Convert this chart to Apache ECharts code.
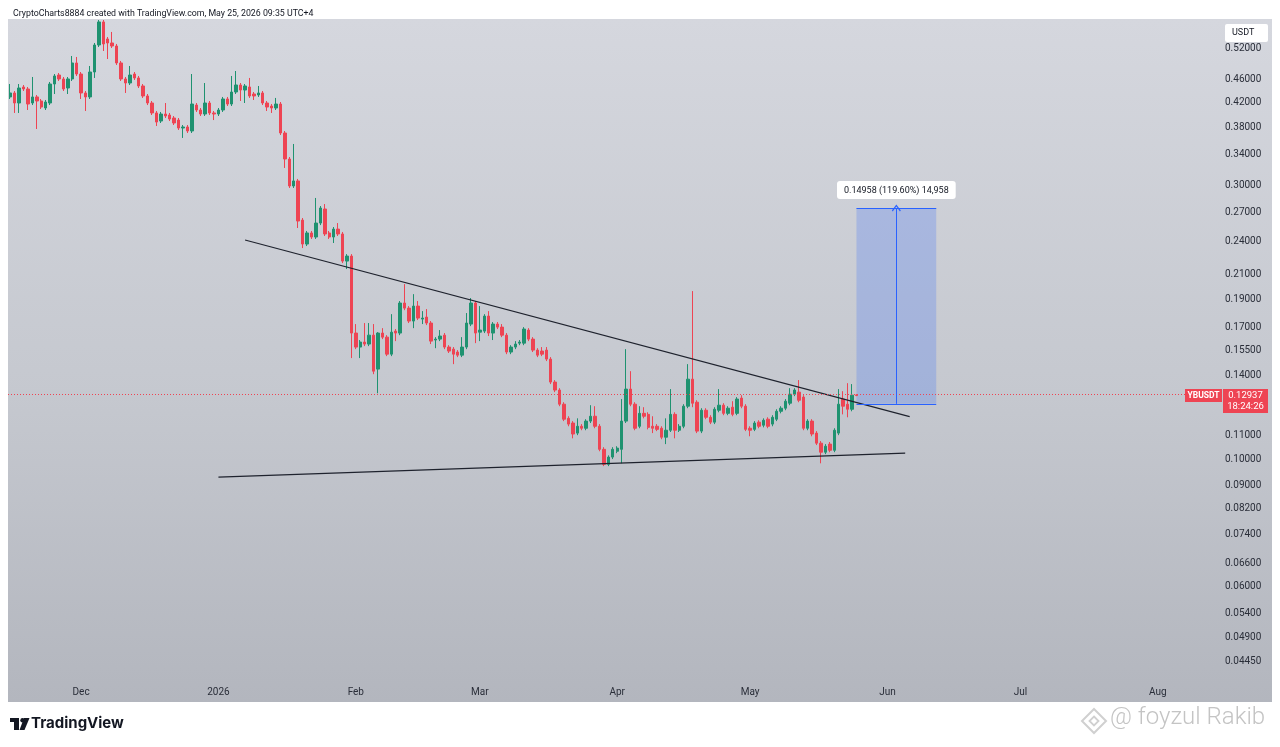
<!DOCTYPE html>
<html><head><meta charset="utf-8">
<script src="https://cdn.jsdelivr.net/npm/echarts@6/dist/echarts.min.js"></script>
<style>html,body{margin:0;padding:0;background:#fff;}#c{width:1280px;height:747px;}</style>
</head><body><div id="c"></div>
<script>
// ---------- data ----------
const symbolName = 'YBUSDT';
const firstDay = [2025, 10, 15];   // 15 Nov 2025 (month 0-based)
const dayCount = 274;              // visible daily slots up to mid-August 2026

const opens = [0.4289,0.4358,0.4186,0.4464,0.4428,0.4186,0.4289,0.4220,0.4103,0.4186,
0.4518,0.4684,0.4610,0.4446,0.4610,0.4916,0.4703,0.4358,0.4289,0.4741,
0.5284,0.5796,0.5413,0.5327,0.5263,0.4916,0.4610,0.4536,0.4703,0.4629,
0.4482,0.4306,0.4186,0.4022,0.3894,0.4005,0.3989,0.3941,0.3909,0.3786,
0.3802,0.3741,0.4152,0.4070,0.4005,0.4186,0.4022,0.4005,0.4070,0.4254,
0.4169,0.4375,0.4500,0.4410,0.4464,0.4340,0.4323,0.4358,0.4186,0.4136,
0.4103,0.4169,0.3711,0.3343,0.3000,0.3061,0.2616,0.2376,0.2484,0.2444,
0.2585,0.2735,0.2484,0.2444,0.2523,0.2474,0.2219,0.2264,0.1662,0.1571,
0.1603,0.1590,0.1648,0.1438,0.1662,0.1635,0.1527,0.1675,0.1662,0.1875,
0.1837,0.1744,0.1852,0.1758,0.1772,0.1730,0.1616,0.1622,0.1648,0.1571,
0.1558,0.1540,0.1521,0.1571,0.1723,0.1875,0.1668,0.1675,0.1779,0.1662,
0.1723,0.1702,0.1648,0.1540,0.1571,0.1596,0.1596,0.1682,0.1622,0.1552,
0.1546,0.1552,0.1497,0.1365,0.1322,0.1249,0.1180,0.1158,0.1112,0.1143,
0.1134,0.1167,0.1190,0.1143,0.1042,0.0981,0.1010,0.1034,0.1042,0.1167,
0.1327,0.1249,0.1143,0.1204,0.1199,0.1143,0.1143,0.1134,0.1094,0.1125,
0.1199,0.1125,0.1143,0.1239,0.1381,0.1259,0.1121,0.1219,0.1185,0.1162,
0.1219,0.1244,0.1204,0.1234,0.1204,0.1280,0.1239,0.1134,0.1129,0.1162,
0.1148,0.1176,0.1153,0.1176,0.1214,0.1229,0.1254,0.1300,0.1311,0.1285,
0.1134,0.1167,0.1112,0.1068,0.1030,0.1064,0.1038,0.1112,0.1275,0.1249,
0.1224,0.1296];

const closes = [0.4358,0.4186,0.4446,0.4428,0.4169,0.4289,0.4220,0.4119,0.4203,0.4518,
0.4666,0.4610,0.4428,0.4610,0.4916,0.4703,0.4358,0.4289,0.4741,0.5284,
0.5796,0.5306,0.5327,0.5263,0.4916,0.4610,0.4536,0.4684,0.4629,0.4482,
0.4306,0.4186,0.4022,0.3878,0.4005,0.3973,0.3925,0.3863,0.3786,0.3802,
0.3741,0.4169,0.4070,0.4005,0.4186,0.4022,0.4005,0.4070,0.4254,0.4169,
0.4375,0.4500,0.4410,0.4482,0.4306,0.4306,0.4358,0.4186,0.4119,0.4103,
0.4169,0.3711,0.3343,0.3000,0.3061,0.2606,0.2376,0.2484,0.2444,0.2585,
0.2746,0.2474,0.2444,0.2523,0.2474,0.2219,0.2264,0.1662,0.1571,0.1603,
0.1590,0.1648,0.1426,0.1662,0.1635,0.1527,0.1668,0.1662,0.1875,0.1837,
0.1744,0.1852,0.1765,0.1765,0.1730,0.1609,0.1622,0.1642,0.1571,0.1546,
0.1527,0.1521,0.1571,0.1730,0.1875,0.1662,0.1682,0.1779,0.1662,0.1723,
0.1702,0.1648,0.1540,0.1571,0.1590,0.1603,0.1689,0.1622,0.1552,0.1521,
0.1527,0.1497,0.1365,0.1322,0.1249,0.1176,0.1153,0.1108,0.1143,0.1134,
0.1167,0.1190,0.1143,0.1042,0.0981,0.1010,0.1042,0.1047,0.1167,0.1327,
0.1249,0.1134,0.1204,0.1190,0.1138,0.1134,0.1129,0.1094,0.1125,0.1199,
0.1125,0.1143,0.1239,0.1381,0.1254,0.1121,0.1219,0.1185,0.1162,0.1224,
0.1244,0.1204,0.1229,0.1199,0.1275,0.1239,0.1129,0.1125,0.1158,0.1143,
0.1171,0.1143,0.1185,0.1214,0.1229,0.1264,0.1300,0.1322,0.1269,0.1134,
0.1167,0.1108,0.1068,0.1030,0.1055,0.1038,0.1125,0.1249,0.1239,0.1224,
0.1295,0.12937];

const lows = [0.4254,0.4022,0.4022,0.4393,0.4070,0.4152,0.3771,0.4086,0.4070,0.4152,
0.4340,0.4573,0.4393,0.4340,0.4573,0.4666,0.4254,0.4054,0.4254,0.4629,
0.5242,0.5158,0.4995,0.5221,0.4877,0.4573,0.4358,0.4500,0.4591,0.4446,
0.4272,0.4152,0.3989,0.3817,0.3863,0.3941,0.3894,0.3832,0.3756,0.3638,
0.3711,0.3711,0.4038,0.3973,0.3973,0.3989,0.3909,0.3973,0.4038,0.4136,
0.4136,0.4340,0.4220,0.4186,0.4272,0.4237,0.4289,0.4152,0.4054,0.4022,
0.4070,0.3681,0.3225,0.2976,0.2976,0.2534,0.2338,0.2357,0.2425,0.2425,
0.2564,0.2454,0.2425,0.2386,0.2454,0.2201,0.2149,0.1503,0.1558,0.1503,
0.1577,0.1577,0.1409,0.1305,0.1622,0.1515,0.1515,0.1609,0.1648,0.1822,
0.1730,0.1695,0.1751,0.1723,0.1716,0.1590,0.1564,0.1609,0.1558,0.1534,
0.1467,0.1509,0.1509,0.1558,0.1709,0.1596,0.1609,0.1662,0.1642,0.1616,
0.1689,0.1635,0.1527,0.1527,0.1558,0.1583,0.1583,0.1609,0.1540,0.1509,
0.1515,0.1485,0.1354,0.1311,0.1239,0.1167,0.1143,0.1089,0.1103,0.1125,
0.1125,0.1158,0.1134,0.1034,0.0974,0.0974,0.1002,0.1026,0.0985,0.1158,
0.1239,0.1125,0.1134,0.1180,0.1129,0.1112,0.1121,0.1085,0.1064,0.1117,
0.1089,0.1117,0.1134,0.1229,0.1234,0.1112,0.1112,0.1176,0.1153,0.1153,
0.1209,0.1195,0.1195,0.1190,0.1195,0.1229,0.1121,0.1098,0.1121,0.1134,
0.1138,0.1134,0.1143,0.1167,0.1204,0.1219,0.1244,0.1290,0.1259,0.1125,
0.1125,0.1098,0.1060,0.0985,0.1022,0.1030,0.1030,0.1103,0.1199,0.1185,
0.1214,0.1290];

const highs = [0.4518,0.4393,0.4518,0.4500,0.4464,0.4647,0.4323,0.4254,0.4237,0.4555,
0.4703,0.4722,0.4647,0.4647,0.5056,0.5036,0.4741,0.4393,0.4857,0.5327,
0.5842,0.5842,0.5457,0.5568,0.5306,0.4956,0.4647,0.4857,0.4741,0.4666,
0.4518,0.4340,0.4220,0.4054,0.4038,0.4186,0.4022,0.3973,0.3941,0.3832,
0.3832,0.4703,0.4186,0.4103,0.4536,0.4220,0.4054,0.4103,0.4289,0.4289,
0.4666,0.4760,0.4536,0.4518,0.4629,0.4375,0.4482,0.4393,0.4220,0.4169,
0.4272,0.4203,0.3741,0.3370,0.3551,0.3086,0.2638,0.2504,0.2504,0.2859,
0.2768,0.2790,0.2504,0.2544,0.2585,0.2494,0.2282,0.2282,0.1723,0.1616,
0.1730,0.1730,0.1723,0.1668,0.1695,0.1648,0.1793,0.1689,0.1890,0.2023,
0.1852,0.1943,0.1890,0.1815,0.1830,0.1744,0.1635,0.1682,0.1662,0.1583,
0.1571,0.1552,0.1635,0.1801,0.1913,0.1890,0.1852,0.1793,0.1815,0.1737,
0.1737,0.1723,0.1662,0.1583,0.1609,0.1616,0.1702,0.1695,0.1635,0.1564,
0.1571,0.1571,0.1509,0.1376,0.1332,0.1259,0.1190,0.1167,0.1180,0.1153,
0.1176,0.1244,0.1239,0.1153,0.1051,0.1017,0.1051,0.1055,0.1275,0.1558,
0.1426,0.1259,0.1239,0.1234,0.1209,0.1190,0.1153,0.1143,0.1180,0.1327,
0.1209,0.1153,0.1249,0.1467,0.1967,0.1269,0.1229,0.1229,0.1195,0.1234,
0.1327,0.1254,0.1239,0.1264,0.1285,0.1295,0.1249,0.1143,0.1167,0.1171,
0.1180,0.1185,0.1195,0.1224,0.1239,0.1275,0.1332,0.1332,0.1376,0.1295,
0.1176,0.1176,0.1121,0.1077,0.1064,0.1073,0.1134,0.1327,0.1316,0.1359,
0.1354,0.1300];

const priceTicks = [0.52,0.46,0.42,0.38,0.34,0.30,0.27,0.24,0.21,0.19,0.17,0.155,0.14,
  0.11,0.10,0.09,0.082,0.074,0.066,0.060,0.054,0.049,0.0445];
const priceRange = [0.04077, 0.5842];
const monthNames = {'01':'2026','02':'Feb','03':'Mar','04':'Apr','05':'May','06':'Jun',
  '07':'Jul','08':'Aug','09':'Sep','10':'Oct','11':'Nov','12':'Dec'};

// trend lines: [day index, price]
const upperTrend = [[53, 0.2415], [203, 0.1188]];
const lowerTrend = [[47, 0.0932], [202, 0.1026]];

// price-range measurement tool
const measureDays = [191, 209, 200];          // from, to, arrow
const measurePrices = [0.12507, 0.27465];     // low, high
const measureText = '0.14958 (119.60%) 14,958';

const lastPrice = 0.12937;
const countdown = '18:24:26';

// ---------- build ----------
const dates = [];
const t0 = Date.UTC(firstDay[0], firstDay[1], firstDay[2]);
for (let i = 0; i < dayCount; i++) dates.push(new Date(t0 + i * 86400000).toISOString().slice(0, 10));
const candles = opens.map((o, i) => [o, closes[i], lows[i], highs[i]]);

const UP = '#1f9270', DOWN = '#ee4453', BLUE = '#2962ff', TXT = '#2a2e39';
const FONT = 'Roboto';

const chart = echarts.init(document.getElementById('c'), null, {renderer: 'canvas'});
chart.setOption({
  animation: false,
  backgroundColor: '#ffffff',
  textStyle: {fontFamily: FONT},
  title: {
    text: 'CryptoCharts8884 created with TradingView.com, May 25, 2026 09:35 UTC+4',
    left: 8, top: 4,
    textStyle: {fontSize: 8.8, fontWeight: 'normal', color: '#131722', fontFamily: FONT}
  },
  grid: {left: 8, right: 58, top: 20, bottom: 64, containLabel: false},
  xAxis: {
    type: 'category', data: dates, boundaryGap: true,
    axisLine: {show: false}, axisTick: {show: false}, splitLine: {show: false},
    axisLabel: {
      interval: (idx, val) => val.slice(8) === '01',
      formatter: v => monthNames[v.slice(5, 7)],
      color: TXT, fontSize: 10, margin: 4, fontFamily: FONT
    }
  },
  yAxis: [
    {type: 'log', logBase: 10, min: priceRange[0], max: priceRange[1], position: 'right',
     axisLine: {show: false}, axisTick: {show: false}, axisLabel: {show: false}, splitLine: {show: false}},
    {type: 'value', min: Math.log10(priceRange[0]), max: Math.log10(priceRange[1]), position: 'right',
     axisLine: {show: false}, axisTick: {show: false}, splitLine: {show: false},
     axisLabel: {customValues: priceTicks.map(Math.log10), formatter: v => Math.pow(10, v).toFixed(5),
                 color: TXT, fontSize: 10, margin: 3, fontFamily: FONT}}
  ],
  series: [
    {
      type: 'candlestick', yAxisIndex: 0, data: candles, barWidth: '66%', z: 3,
      itemStyle: {color: UP, color0: DOWN, borderColor: UP, borderColor0: DOWN, borderWidth: 1},
      markArea: {
        silent: true,
        itemStyle: {color: 'rgba(41,98,255,0.22)', borderWidth: 0},
        label: {show: true, position: 'top', distance: 9, formatter: measureText,
                backgroundColor: '#ffffff', padding: [5, 7, 4, 7], borderRadius: 3,
                color: '#131722', fontSize: 9, fontFamily: FONT},
        data: [[{coord: [measureDays[0], measurePrices[0]]}, {coord: [measureDays[1], measurePrices[1]]}]]
      },
      markLine: {
        silent: true, symbol: ['none', 'none'], label: {show: false}, animation: false,
        data: [
          {yAxis: lastPrice, lineStyle: {color: DOWN, type: [1, 2], width: 1}},
          [{coord: [measureDays[0], measurePrices[0]], lineStyle: {color: BLUE, width: 1, type: 'solid'}},
           {coord: [measureDays[1], measurePrices[0]]}],
          [{coord: [measureDays[0], measurePrices[1]], lineStyle: {color: BLUE, width: 1, type: 'solid'}},
           {coord: [measureDays[1], measurePrices[1]]}],
          [{coord: [measureDays[2], measurePrices[0]], symbol: 'none', lineStyle: {color: BLUE, width: 1, type: 'solid'}},
           {coord: [measureDays[2], measurePrices[1]], symbol: 'path://M5,0 L10,7 L9,8 L5,2.4 L1,8 L0,7 Z', symbolSize: [9, 7]}]
        ]
      }
    },
    {type: 'line', yAxisIndex: 0, data: upperTrend, symbol: 'none', silent: true, z: 4,
     lineStyle: {color: '#1e222d', width: 1.2}},
    {type: 'line', yAxisIndex: 0, data: lowerTrend, symbol: 'none', silent: true, z: 4,
     lineStyle: {color: '#1e222d', width: 1.2}}
  ],
  graphic: [
    {type: 'rect', id: 'bg', z: -10, silent: true, shape: {x: 8, y: 19, width: 1264, height: 683},
     style: {fill: new echarts.graphic.LinearGradient(0, 0, 0, 1, [
       {offset: 0, color: '#d5d7de'}, {offset: 0.55, color: '#c5c8cf'}, {offset: 1, color: '#b3b6be'}])}},
    {type: 'rect', id: 'usdtBox', z: 10, shape: {x: 1225, y: 24, width: 43, height: 18, r: 2}, style: {fill: '#ffffff'}},
    {type: 'text', id: 'usdtTxt', z: 11, x: 1232, y: 28, style: {text: 'USDT', fill: '#131722', fontSize: 9, fontFamily: FONT}},
    // footer logo
    {type: 'group', id: 'tvlogo', x: 10, y: 718, children: [
      {type: 'rect', shape: {x: 0, y: 0, width: 9, height: 4}, style: {fill: '#131722'}},
      {type: 'rect', shape: {x: 4, y: 0, width: 5, height: 12}, style: {fill: '#131722'}},
      {type: 'circle', shape: {cx: 12.5, cy: 2.2, r: 2.2}, style: {fill: '#131722'}},
      {type: 'polygon', shape: {points: [[14, 0], [19.5, 0], [14.5, 12], [9.5, 12]]}, style: {fill: '#131722'}}
    ]},
    {type: 'text', id: 'tvtext', x: 31, y: 716, style: {text: 'TradingView', fill: '#131722', fontSize: 15, fontWeight: 'bold', fontFamily: 'Inter'}},
    // watermark
    {type: 'group', id: 'wmIcon', x: 1094, y: 721, children: [
      {type: 'polygon', shape: {points: [[0, -12], [12, 0], [0, 12], [-12, 0]]}, style: {fill: 'none', stroke: '#d0d0d0', lineWidth: 2}},
      {type: 'polygon', shape: {points: [[0, -4.5], [4.5, 0], [0, 4.5], [-4.5, 0]]}, style: {fill: 'none', stroke: '#d0d0d0', lineWidth: 1.8}}
    ]},
    {type: 'text', id: 'wmText', x: 1110, y: 706, style: {text: '@ foyzul Rakib', fill: '#c4c4c4', fontSize: 24, fontWeight: 300, fontFamily: FONT}}
  ]
});

// price label on the price scale, positioned from the library's own y scale
const py = chart.convertToPixel({yAxisIndex: 0}, lastPrice);
chart.setOption({graphic: [
  {type: 'rect', id: 'symBox', z: 12, shape: {x: 1185, y: py - 6.5, width: 37, height: 13}, style: {fill: DOWN}},
  {type: 'text', id: 'symTxt', z: 13, x: 1203.5, y: py, style: {text: symbolName, fill: '#ffffff', fontSize: 8.5, fontWeight: 'bold', fontFamily: FONT, align: 'center', verticalAlign: 'middle'}},
  {type: 'rect', id: 'pxBox', z: 12, shape: {x: 1223, y: py - 6.5, width: 45, height: 24}, style: {fill: DOWN}},
  {type: 'text', id: 'pxTxt', z: 13, x: 1245.5, y: py, style: {text: lastPrice.toFixed(5), fill: '#ffffff', fontSize: 9.5, fontFamily: FONT, align: 'center', verticalAlign: 'middle'}},
  {type: 'text', id: 'cdTxt', z: 13, x: 1245.5, y: py + 11, style: {text: countdown, fill: '#ffffff', fontSize: 9.5, fontFamily: FONT, align: 'center', verticalAlign: 'middle'}}
]});
</script></body></html>
